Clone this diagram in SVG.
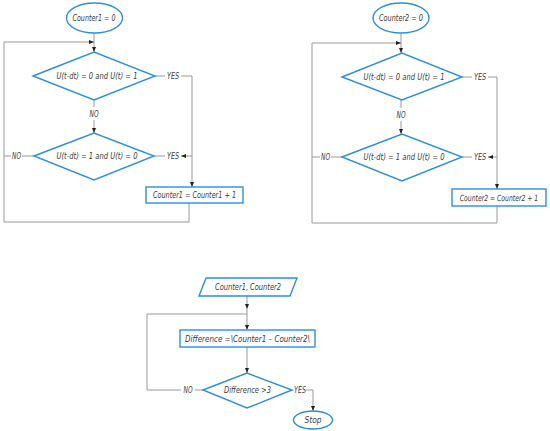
<svg xmlns="http://www.w3.org/2000/svg" width="550" height="431" viewBox="0 0 550 431">
<style>
.shape{fill:#fff;stroke:#2d8fdc;stroke-width:1.4}
.ln{fill:none;stroke:#9a9a9a;stroke-width:1}
.t{font-family:"DejaVu Sans Condensed","Liberation Sans",sans-serif;font-style:italic;font-size:8.5px;fill:#3a3a3a;text-anchor:middle}
</style>
<defs>
<marker id="ah" markerUnits="userSpaceOnUse" markerWidth="6" markerHeight="6" refX="5" refY="2" orient="auto">
<path d="M0,0 L5,2 L0,4 Z" fill="#222"/>
</marker>
</defs>
<rect width="550" height="431" fill="#fff"/>

<g id="connectors">
<path class="ln" d="M94,33 V52" marker-end="url(#ah)"/>
<path class="ln" d="M189,203 V222 H4 V42 H94" marker-end="url(#ah)"/>
<path class="ln" d="M155,76 H165 M181,76 H192 V187" marker-end="url(#ah)"/>
<path class="ln" d="M94,100 V107 M94,120 V133" marker-end="url(#ah)"/>
<path class="ln" d="M154,156 H165 M192,156 H181" marker-end="url(#ah)"/>
<path class="ln" d="M34,156 H22 M11,156 H4"/>
<path class="ln" d="M401,33 V53" marker-end="url(#ah)"/>
<path class="ln" d="M497,206 V223 H312 V43 H401" marker-end="url(#ah)"/>
<path class="ln" d="M462,77 H472 M488,77 H497 V189" marker-end="url(#ah)"/>
<path class="ln" d="M401,100 V108 M401,121 V134" marker-end="url(#ah)"/>
<path class="ln" d="M462,157 H472 M497,157 H488" marker-end="url(#ah)"/>
<path class="ln" d="M342,157 H331 M320,157 H312"/>
<path class="ln" d="M247,296 V309" marker-end="url(#ah)"/>
<path class="ln" d="M247,309 V330" marker-end="url(#ah)"/>
<path class="ln" d="M181,390 H147 V314 H247"/>
<path class="ln" d="M203,390 H195"/>
<path class="ln" d="M247,347 V373" marker-end="url(#ah)"/>
<path class="ln" d="M306,390 H313 V411" marker-end="url(#ah)"/>
</g>

<g id="start1"><ellipse class="shape" cx="94.5" cy="18" rx="28" ry="15"/><text class="t" x="94" y="21" textLength="43" lengthAdjust="spacingAndGlyphs">Counter1 = 0</text></g>
<g id="dec1a"><polygon class="shape" points="33,76 94,52 155,76 94,100"/><text class="t" x="97" y="79" textLength="81" lengthAdjust="spacingAndGlyphs">U(t-dt) = 0 and U(t) = 1</text></g>
<g id="no1a"><text class="t" x="94" y="117" textLength="9" lengthAdjust="spacingAndGlyphs">NO</text></g>
<g id="yes1a"><text class="t" x="173" y="79" textLength="12" lengthAdjust="spacingAndGlyphs">YES</text></g>
<g id="dec1b"><polygon class="shape" points="34,156 94,133 154,156 94,180"/><text class="t" x="97" y="159" textLength="81" lengthAdjust="spacingAndGlyphs">U(t-dt) = 1 and U(t) = 0</text></g>
<g id="no1b"><text class="t" x="16.5" y="159" textLength="9" lengthAdjust="spacingAndGlyphs">NO</text></g>
<g id="yes1b"><text class="t" x="173" y="159" textLength="12" lengthAdjust="spacingAndGlyphs">YES</text></g>
<g id="inc1"><rect class="shape" x="146" y="187" width="97" height="16"/><text class="t" x="194.5" y="198" textLength="83" lengthAdjust="spacingAndGlyphs">Counter1 = Counter1 + 1</text></g>

<g id="start2"><ellipse class="shape" cx="401" cy="18" rx="28" ry="15"/><text class="t" x="401" y="21" textLength="44" lengthAdjust="spacingAndGlyphs">Counter2 = 0</text></g>
<g id="dec2a"><polygon class="shape" points="342,77 402,53 462,77 402,100"/><text class="t" x="404" y="80" textLength="81" lengthAdjust="spacingAndGlyphs">U(t-dt) = 0 and U(t) = 1</text></g>
<g id="no2a"><text class="t" x="401" y="118" textLength="9" lengthAdjust="spacingAndGlyphs">NO</text></g>
<g id="yes2a"><text class="t" x="480" y="80" textLength="12" lengthAdjust="spacingAndGlyphs">YES</text></g>
<g id="dec2b"><polygon class="shape" points="342,157 402,134 462,157 402,181"/><text class="t" x="404" y="160" textLength="81" lengthAdjust="spacingAndGlyphs">U(t-dt) = 1 and U(t) = 0</text></g>
<g id="no2b"><text class="t" x="325.5" y="160" textLength="9" lengthAdjust="spacingAndGlyphs">NO</text></g>
<g id="yes2b"><text class="t" x="480" y="160" textLength="12" lengthAdjust="spacingAndGlyphs">YES</text></g>
<g id="inc2"><rect class="shape" x="452" y="189" width="94" height="17"/><text class="t" transform="translate(499,201) scale(0.8,1)" x="0" y="0">Counter2 = Counter2 + 1</text></g>

<g id="input"><polygon class="shape" points="206,278 297,278 290,296 199,296"/><text class="t" x="248" y="290" textLength="66" lengthAdjust="spacingAndGlyphs">Counter1, Counter2</text></g>
<g id="diff"><rect class="shape" x="180" y="330" width="135" height="17"/><text class="t" x="247.5" y="342" textLength="125" lengthAdjust="spacingAndGlyphs">Difference =\Counter1 – Counter2\</text></g>
<g id="dec3"><polygon class="shape" points="203,390 247,373 292,390 247,408"/><text class="t" x="247.5" y="393" textLength="47" lengthAdjust="spacingAndGlyphs">Difference &gt;3</text></g>
<g id="no3"><text class="t" x="188" y="393" textLength="9" lengthAdjust="spacingAndGlyphs">NO</text></g>
<g id="yes3"><text class="t" x="300" y="393" textLength="12" lengthAdjust="spacingAndGlyphs">YES</text></g>
<g id="stop"><ellipse class="shape" cx="313" cy="420" rx="19.5" ry="9"/><text class="t" x="313" y="423" textLength="17" lengthAdjust="spacingAndGlyphs">Stop</text></g>
</svg>
